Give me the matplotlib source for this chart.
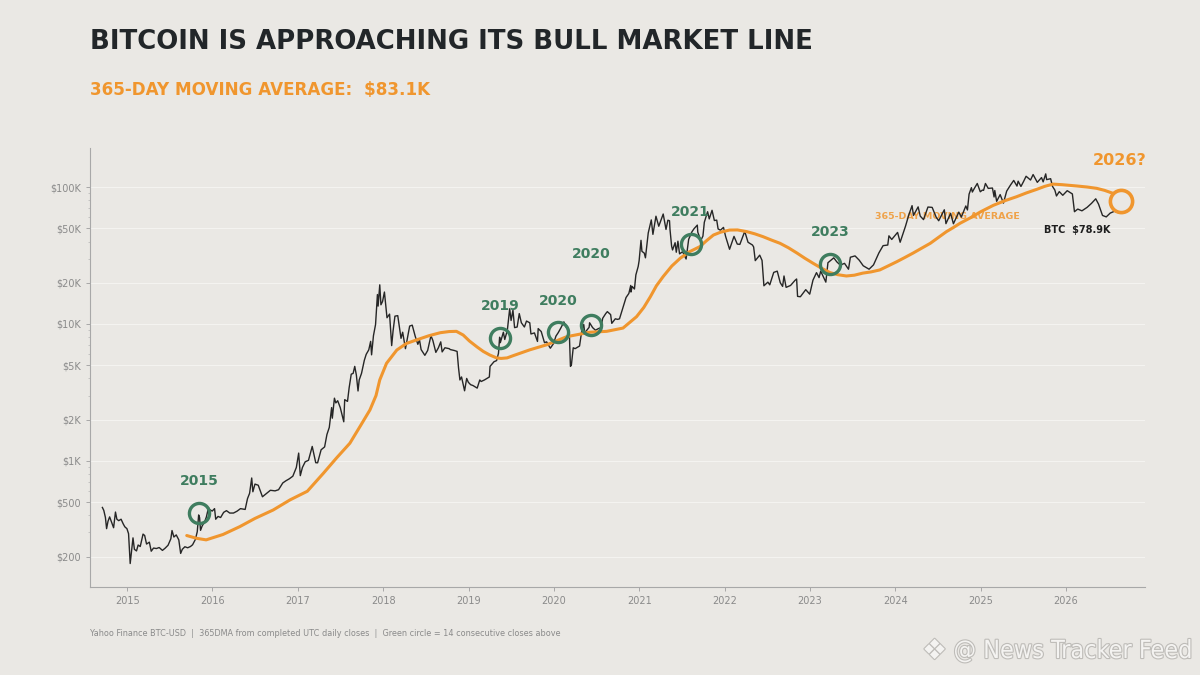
import matplotlib
matplotlib.use("Agg")
import matplotlib.pyplot as plt
import matplotlib.ticker as mticker
import matplotlib.dates as mdates
import matplotlib.patheffects as pe
from matplotlib import font_manager as fm
import pandas as pd
import numpy as np

# ---------------- data ----------------
price_dates = [
    "2014-09-17", "2014-09-23", "2014-09-30", "2014-10-05", "2014-10-11", "2014-10-18", "2014-10-27",
    "2014-11-04", "2014-11-12", "2014-11-18", "2014-11-26", "2014-12-06", "2014-12-15", "2014-12-22",
    "2014-12-31", "2015-01-07", "2015-01-14", "2015-01-19", "2015-01-26", "2015-02-01", "2015-02-10",
    "2015-02-17", "2015-02-26", "2015-03-10", "2015-03-17", "2015-03-25", "2015-04-06", "2015-04-14",
    "2015-04-24", "2015-05-06", "2015-05-18", "2015-06-01", "2015-06-12", "2015-06-25", "2015-07-07",
    "2015-07-12", "2015-07-20", "2015-07-30", "2015-08-10", "2015-08-18", "2015-08-25", "2015-09-05",
    "2015-09-17", "2015-09-29", "2015-10-08", "2015-10-20", "2015-10-28", "2015-11-03", "2015-11-07",
    "2015-11-11", "2015-11-18", "2015-11-28", "2015-12-06", "2015-12-15", "2015-12-20", "2015-12-31",
    "2016-01-10", "2016-01-15", "2016-01-25", "2016-02-05", "2016-02-18", "2016-03-01", "2016-03-15",
    "2016-03-31", "2016-04-15", "2016-04-30", "2016-05-20", "2016-05-30", "2016-06-08", "2016-06-17",
    "2016-06-22", "2016-07-01", "2016-07-15", "2016-08-02", "2016-08-20", "2016-09-05", "2016-09-25",
    "2016-10-10", "2016-10-28", "2016-11-10", "2016-11-25", "2016-12-10", "2016-12-25", "2017-01-04",
    "2017-01-11", "2017-01-20", "2017-02-01", "2017-02-15", "2017-03-03", "2017-03-18", "2017-03-26",
    "2017-04-10", "2017-04-25", "2017-05-05", "2017-05-15", "2017-05-25", "2017-05-28", "2017-06-06",
    "2017-06-12", "2017-06-20", "2017-07-01", "2017-07-16", "2017-07-20", "2017-08-01", "2017-08-08",
    "2017-08-17", "2017-08-25", "2017-09-01", "2017-09-08", "2017-09-15", "2017-09-20", "2017-09-30",
    "2017-10-12", "2017-10-20", "2017-10-31", "2017-11-08", "2017-11-12", "2017-11-20", "2017-11-29",
    "2017-12-07", "2017-12-10", "2017-12-17", "2017-12-22", "2017-12-29", "2018-01-06", "2018-01-12",
    "2018-01-17", "2018-01-28", "2018-02-06", "2018-02-12", "2018-02-20", "2018-03-04", "2018-03-18",
    "2018-03-25", "2018-04-06", "2018-04-15", "2018-04-24", "2018-05-05", "2018-05-18", "2018-05-29",
    "2018-06-05", "2018-06-12", "2018-06-28", "2018-07-10", "2018-07-24", "2018-08-01", "2018-08-14",
    "2018-08-25", "2018-09-04", "2018-09-10", "2018-09-22", "2018-10-10", "2018-10-15", "2018-11-01",
    "2018-11-13", "2018-11-19", "2018-11-25", "2018-12-02", "2018-12-15", "2018-12-24", "2018-12-31",
    "2019-01-10", "2019-01-20", "2019-02-07", "2019-02-18", "2019-02-24", "2019-03-10", "2019-03-31",
    "2019-04-03", "2019-04-20", "2019-05-01", "2019-05-09", "2019-05-14", "2019-05-17", "2019-05-30",
    "2019-06-05", "2019-06-16", "2019-06-26", "2019-07-02", "2019-07-10", "2019-07-17", "2019-07-28",
    "2019-08-06", "2019-08-15", "2019-08-28", "2019-09-06", "2019-09-20", "2019-09-25", "2019-10-10",
    "2019-10-23", "2019-10-26", "2019-11-08", "2019-11-22", "2019-12-01", "2019-12-17", "2019-12-31",
    "2020-01-10", "2020-01-20", "2020-01-31", "2020-02-13", "2020-02-25", "2020-03-07", "2020-03-12",
    "2020-03-16", "2020-03-24", "2020-04-01", "2020-04-20", "2020-04-29", "2020-05-08", "2020-05-12",
    "2020-05-31", "2020-06-02", "2020-06-15", "2020-06-27", "2020-07-10", "2020-07-21", "2020-07-28",
    "2020-08-10", "2020-08-17", "2020-08-31", "2020-09-05", "2020-09-20", "2020-09-30", "2020-10-08",
    "2020-10-21", "2020-11-05", "2020-11-17", "2020-11-25", "2020-11-26", "2020-12-01", "2020-12-11",
    "2020-12-17", "2020-12-27", "2020-12-31", "2021-01-08", "2021-01-12", "2021-01-22", "2021-01-27",
    "2021-02-08", "2021-02-21", "2021-02-28", "2021-03-13", "2021-03-25", "2021-04-13", "2021-04-25",
    "2021-05-03", "2021-05-10", "2021-05-12", "2021-05-19", "2021-05-23", "2021-06-03", "2021-06-08",
    "2021-06-15", "2021-06-22", "2021-07-05", "2021-07-20", "2021-07-31", "2021-08-14", "2021-08-23",
    "2021-09-06", "2021-09-08", "2021-09-21", "2021-09-30", "2021-10-06", "2021-10-20", "2021-10-27",
    "2021-11-08", "2021-11-18", "2021-11-28", "2021-12-04", "2021-12-14", "2021-12-27", "2022-01-05",
    "2022-01-22", "2022-02-10", "2022-02-24", "2022-03-07", "2022-03-28", "2022-04-11", "2022-04-30",
    "2022-05-05", "2022-05-12", "2022-05-31", "2022-06-10", "2022-06-18", "2022-07-05", "2022-07-13",
    "2022-07-30", "2022-08-14", "2022-08-27", "2022-09-06", "2022-09-12", "2022-09-21", "2022-10-10",
    "2022-10-29", "2022-11-05", "2022-11-09", "2022-11-21", "2022-12-14", "2022-12-31", "2023-01-14",
    "2023-01-29", "2023-02-09", "2023-02-16", "2023-03-10", "2023-03-19", "2023-04-13", "2023-04-26",
    "2023-05-11", "2023-05-29", "2023-06-15", "2023-06-23", "2023-07-13", "2023-07-31", "2023-08-17",
    "2023-09-11", "2023-09-30", "2023-10-23", "2023-11-10", "2023-11-30", "2023-12-05", "2023-12-17",
    "2024-01-11", "2024-01-22", "2024-02-14", "2024-02-28", "2024-03-13", "2024-03-19", "2024-04-08",
    "2024-04-17", "2024-05-01", "2024-05-20", "2024-06-07", "2024-06-24", "2024-07-05", "2024-07-29",
    "2024-08-05", "2024-08-25", "2024-09-06", "2024-09-29", "2024-10-10", "2024-10-29", "2024-11-05",
    "2024-11-12", "2024-11-22", "2024-11-26", "2024-12-05", "2024-12-17", "2024-12-30", "2025-01-08",
    "2025-01-13", "2025-01-21", "2025-02-02", "2025-02-20", "2025-02-27", "2025-03-02", "2025-03-10",
    "2025-03-25", "2025-04-08", "2025-04-22", "2025-05-08", "2025-05-22", "2025-06-05", "2025-06-10",
    "2025-06-22", "2025-07-03", "2025-07-14", "2025-08-02", "2025-08-13", "2025-08-31", "2025-09-18",
    "2025-09-25", "2025-10-06", "2025-10-10", "2025-10-27", "2025-11-04", "2025-11-14", "2025-11-21",
    "2025-12-03", "2025-12-18", "2026-01-06", "2026-01-28", "2026-02-06", "2026-02-20", "2026-03-10",
    "2026-04-01", "2026-04-20", "2026-05-08", "2026-05-20", "2026-06-06", "2026-06-22", "2026-07-09",
    "2026-07-27", "2026-08-14",
]
price_values = [
    457, 435, 386, 320, 362, 390, 355,
    325, 423, 375, 366, 375, 347, 330,
    320, 294, 178, 212, 274, 226, 220,
    243, 237, 292, 285, 247, 255, 219,
    231, 229, 233, 222, 230, 242, 270,
    310, 278, 288, 265, 211, 226, 236,
    232, 237, 244, 267, 304, 403, 385,
    311, 335, 357, 389, 455, 441, 430,
    448, 375, 393, 386, 421, 433, 416,
    416, 429, 448, 442, 530, 580, 750,
    595, 677, 664, 547, 580, 610, 604,
    616, 690, 715, 740, 773, 895, 1140,
    780, 895, 985, 1010, 1275, 970, 968,
    1205, 1265, 1560, 1755, 2450, 2050, 2870,
    2650, 2750, 2450, 1930, 2800, 2720, 3420,
    4300, 4350, 4900, 4220, 3240, 3900, 4360,
    5430, 6000, 6470, 7460, 5950, 8200, 9900,
    16400, 13500, 19300, 13800, 14600, 17100, 13400,
    11100, 11800, 6950, 8900, 11400, 11500, 7850,
    8700, 6600, 8000, 9650, 9800, 8100, 7100,
    7650, 6500, 5900, 6400, 8200, 7600, 6200,
    6700, 7400, 6250, 6700, 6600, 6500, 6400,
    6300, 4800, 3900, 4100, 3250, 4000, 3750,
    3600, 3550, 3400, 3900, 3800, 3900, 4100,
    4900, 5300, 5400, 6100, 8000, 7300, 8700,
    7700, 9000, 12900, 10600, 12600, 9400, 9500,
    11900, 10200, 9500, 10500, 10200, 8450, 8600,
    7450, 9250, 8800, 7300, 7400, 6650, 7200,
    8150, 8650, 9350, 10350, 9300, 8900, 4900,
    5000, 6700, 6600, 6900, 8800, 9900, 8600,
    9450, 10200, 9400, 9000, 9250, 9400, 11000,
    11900, 12300, 11700, 10100, 10900, 10800, 10900,
    12900, 15600, 16700, 19100, 17100, 18800, 18000,
    22800, 26300, 29000, 40800, 33900, 32900, 30400,
    46200, 57500, 45100, 61200, 51700, 63500, 49000,
    57200, 56700, 49200, 37000, 34700, 39200, 33400,
    40200, 32500, 33700, 29800, 41500, 47100, 49600,
    52700, 46800, 40700, 43800, 55300, 66000, 58500,
    67600, 56900, 57300, 49400, 48400, 50700, 43600,
    35100, 43600, 38300, 38100, 47400, 39500, 37700,
    36500, 29000, 31800, 29100, 19000, 20200, 19300,
    23800, 24300, 20000, 18800, 22400, 18500, 19100,
    20800, 21300, 15900, 15800, 17800, 16500, 20900,
    23700, 21800, 24300, 20200, 28000, 30400, 28400,
    26900, 27700, 25100, 30700, 31400, 29200, 26600,
    25100, 27000, 33000, 37300, 37700, 44000, 41400,
    46600, 39500, 51800, 62500, 73100, 62000, 71600,
    61300, 57800, 71400, 71000, 60300, 56700, 68200,
    54000, 64200, 53900, 65600, 60300, 72700, 68000,
    88700, 98900, 91900, 98000, 106100, 92300, 95000,
    94500, 106100, 97700, 98300, 84600, 94300, 78600,
    88000, 76300, 93400, 103200, 111700, 101600, 110300,
    100900, 109600, 119800, 112500, 123300, 108200, 117200,
    109000, 124700, 113200, 115000, 101000, 95000, 86000,
    92500, 87000, 94000, 89000, 66000, 69000, 67000,
    71000, 76000, 82000, 75000, 62000, 60500, 64500,
    66500, 65000,
]

ma_dates = [
    "2015-09-13", "2015-10-25", "2015-12-05", "2016-02-15", "2016-04-27", "2016-07-01",
    "2016-09-17", "2016-11-28", "2017-02-10", "2017-04-20", "2017-06-15", "2017-08-11",
    "2017-09-25", "2017-11-05", "2017-12-01", "2017-12-17", "2018-01-15", "2018-02-28",
    "2018-04-10", "2018-05-23", "2018-07-15", "2018-09-02", "2018-10-10", "2018-11-10",
    "2018-12-09", "2019-01-05", "2019-02-06", "2019-03-05", "2019-04-02", "2019-05-01",
    "2019-05-20", "2019-06-15", "2019-07-09", "2019-09-20", "2019-12-02", "2020-02-25",
    "2020-06-03", "2020-08-14", "2020-10-23", "2020-12-20", "2021-01-20", "2021-02-17",
    "2021-03-15", "2021-04-13", "2021-05-20", "2021-06-25", "2021-08-01", "2021-09-17",
    "2021-10-15", "2021-11-14", "2021-12-15", "2022-01-22", "2022-02-25", "2022-04-06",
    "2022-05-10", "2022-06-14", "2022-07-20", "2022-08-26", "2022-10-01", "2022-11-07",
    "2022-12-10", "2023-01-15", "2023-02-20", "2023-03-28", "2023-04-30", "2023-06-06",
    "2023-07-10", "2023-08-15", "2023-09-20", "2023-10-27", "2023-12-01", "2024-01-08",
    "2024-02-10", "2024-03-17", "2024-04-20", "2024-05-30", "2024-07-01", "2024-08-07",
    "2024-09-05", "2024-10-04", "2024-11-17", "2025-01-01", "2025-02-24", "2025-04-15",
    "2025-06-03", "2025-07-15", "2025-08-29", "2025-10-01", "2025-11-06", "2025-12-15",
    "2026-02-17", "2026-04-01", "2026-05-12", "2026-06-15", "2026-07-20",
]
ma_values = [
    285, 272, 265, 290, 331, 380,
    438, 519, 600, 813, 1050, 1345,
    1800, 2355, 3000, 3900, 5160, 6450,
    7200, 7640, 8200, 8630, 8800, 8830,
    8300, 7500, 6800, 6300, 5930, 5650,
    5600, 5650, 5850, 6470, 7050, 8070,
    8700, 8830, 9330, 11300, 13200, 15800,
    19000, 22200, 26500, 30200, 33500, 36700,
    40500, 44600, 46800, 48500, 48600, 47200,
    45500, 43400, 41000, 38800, 36000, 32900,
    30200, 27700, 25500, 23700, 22900, 22400,
    22700, 23500, 24000, 24800, 26500, 28500,
    30500, 32900, 35500, 38800, 42500, 47200,
    50500, 54300, 59500, 66000, 73500, 79500,
    84900, 90500, 96200, 101000, 105000, 104000,
    101700, 100000, 97800, 94500, 90000,
]

cross_dates = ["2015-11-04", "2019-05-16", "2020-01-19", "2020-06-10", "2021-08-08", "2023-03-28"]
cross_prices = [415, 7950, 8800, 9850, 38400, 27300]
cross_labels = ["2015", "2019", "2020", "2020", "2021", "2023"]
cross_label_offsets = [23, 23, 22, 51, 23, 23]

future_date = "2026-08-25"
future_price = 78900
future_label = "2026?"

y_ticks = [200, 500, 1000, 2000, 5000, 10000, 20000, 50000, 100000]
y_tick_labels = ["$200", "$500", "$1K", "$2K", "$5K", "$10K", "$20K", "$50K", "$100K"]

title = "BITCOIN IS APPROACHING ITS BULL MARKET LINE"
subtitle = "365-DAY MOVING AVERAGE:  $83.1K"
footer = ("Yahoo Finance BTC-USD  |  365DMA from completed UTC daily closes  |  "
          "Green circle = 14 consecutive closes above")
ma_label = "365-DAY MOVING AVERAGE"
btc_label = "BTC  $78.9K"
watermark_logo = "\u2756"
watermark = "@ News Tracker Feed"

# ---------------- style ----------------
BG = "#EAE8E4"
ORANGE = "#F0962E"
GREEN = "#3F7D5F"
DARK = "#222629"
GRAY = "#8A8A8A"

plt.rcParams["font.family"] = ["DejaVu Sans"]

# condensed face for footer / watermark if present
cond_path = None
for f in fm.fontManager.ttflist:
    base = f.fname.split("/")[-1]
    if base == "DejaVuSansCondensed.ttf":
        cond_path = f.fname
        break
if cond_path:
    footer_fp = fm.FontProperties(fname=cond_path, size=6.5)
    wm_fp = fm.FontProperties(fname=cond_path, size=18)
else:
    footer_fp = fm.FontProperties(family="DejaVu Sans", size=5.7)
    wm_fp = fm.FontProperties(family="DejaVu Sans", size=16)

fig = plt.figure(figsize=(12, 6.75), dpi=100)
fig.patch.set_facecolor(BG)
ax = fig.add_axes([0.075, 0.1304, 0.879, 0.6503])
ax.set_facecolor(BG)

ax.set_yscale("log")
ax.set_ylim(120, 192600)
ax.set_xlim(pd.Timestamp("2014-07-26"), pd.Timestamp("2026-12-04"))

ax.plot(pd.to_datetime(price_dates), price_values, color="#262626", lw=1.0, zorder=3)
ax.plot(pd.to_datetime(ma_dates), ma_values, color=ORANGE, lw=2.2, zorder=4,
        solid_capstyle="round", solid_joinstyle="round")

for d, p, lbl, off in zip(cross_dates, cross_prices, cross_labels, cross_label_offsets):
    dt = pd.Timestamp(d)
    ax.plot([dt], [p], "o", ms=14.5, mfc="none", mec=GREEN, mew=2.4, zorder=6)
    ax.annotate(lbl, (dt, p), xytext=(0, off), textcoords="offset points",
                ha="center", va="center", color=GREEN, fontsize=10, fontweight="bold",
                zorder=7)

fdt = pd.Timestamp(future_date)
ax.plot([fdt], [future_price], "o", ms=16, mfc="none", mec=ORANGE, mew=2.6, zorder=6)
ax.annotate(future_label, (fdt, future_price), xytext=(-1, 29), textcoords="offset points",
            ha="center", va="center", color=ORANGE, fontsize=11.5, fontweight="bold")

ax.text(0.813, 0.845, ma_label, transform=ax.transAxes, ha="center", va="center",
        color=ORANGE, alpha=0.85, fontsize=6.8, fontweight="bold", zorder=2)
ax.text(0.9356, 0.813, btc_label, transform=ax.transAxes, ha="center", va="center",
        color="#1e1e1e", fontsize=7, fontweight="bold", zorder=7)

# axes styling
for s in ["top", "right"]:
    ax.spines[s].set_visible(False)
for s in ["left", "bottom"]:
    ax.spines[s].set_color("#A8A8A8")
    ax.spines[s].set_linewidth(0.8)

ax.yaxis.set_major_locator(mticker.FixedLocator(y_ticks))
ax.yaxis.set_major_formatter(mticker.FixedFormatter(y_tick_labels))
ax.yaxis.set_minor_locator(mticker.LogLocator(base=10, subs=np.arange(2, 10)))
ax.yaxis.set_minor_formatter(mticker.NullFormatter())
ax.xaxis.set_major_locator(mdates.YearLocator())
ax.xaxis.set_major_formatter(mdates.DateFormatter("%Y"))

ax.tick_params(axis="both", which="major", colors="#A8A8A8", labelcolor=GRAY,
               labelsize=7, length=3, width=0.7)
ax.tick_params(axis="y", which="minor", colors="#B5B5B5", length=1.8, width=0.5)

ax.grid(axis="y", which="major", color="#F4F3F0", lw=0.8, zorder=0)
ax.set_axisbelow(True)

# titles / footer
fig.text(0.075, 1 - 42 / 675, title, fontsize=18.7, fontweight="bold", color=DARK,
         va="center", ha="left")
fig.text(0.075, 1 - 90 / 675, subtitle, fontsize=12.1, fontweight="bold", color=ORANGE,
         va="center", ha="left")
fig.text(0.075, 1 - 634 / 675, footer, fontproperties=footer_fp, color=GRAY,
         va="center", ha="left")
wm = fig.text(0.994, 1 - 651 / 675, watermark, fontproperties=wm_fp, color="#F4F3F1",
              va="center", ha="right")
wm.set_path_effects([pe.withStroke(linewidth=1.6, foreground="#BEBCB8")])
wl = fig.text(1 - 253 / 1200, 1 - 651 / 675, watermark_logo, fontsize=20, color="#F4F3F1",
              va="center", ha="right")
wl.set_path_effects([pe.withStroke(linewidth=1.6, foreground="#BEBCB8")])

fig.savefig("out.png", dpi=100, facecolor=BG)
